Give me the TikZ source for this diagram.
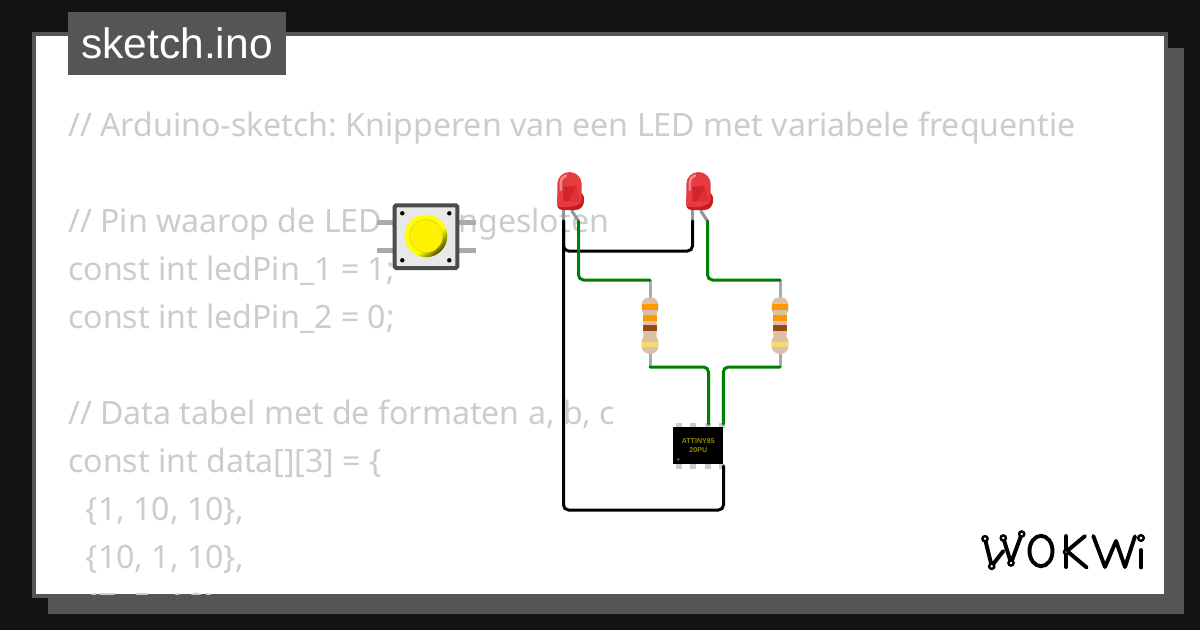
\documentclass[tikz,border=0pt]{standalone}
\usepackage{fontspec}
\setmainfont{Noto Sans}
\newfontfamily\tabfont{Liberation Sans}
\newfontfamily\chipfont{Liberation Sans}
\frenchspacing
\definecolor{pagebg}{HTML}{121212}
\definecolor{framegray}{HTML}{555555}
\definecolor{codegray}{HTML}{CCCCCC}
\definecolor{wiregreen}{HTML}{008000}
\definecolor{leadgray}{HTML}{AAAAAA}
\definecolor{ledred}{HTML}{E83B40}
\definecolor{leddark}{HTML}{C41C1C}
\definecolor{resbody}{HTML}{DCC0A6}
\definecolor{bandorange}{HTML}{FF9800}
\definecolor{bandbrown}{HTML}{964B14}
\definecolor{bandyellow}{HTML}{F2DC6C}
\definecolor{chiptext}{HTML}{8B8B00}
\pgfdeclareverticalshading{btnring}{100bp}{color(0bp)=(black!70!yellow); color(25bp)=(black!70!yellow); color(42bp)=(yellow); color(100bp)=(yellow)}
\tikzset{
  wire/.style={line width=3pt,rounded corners=5pt,line cap=round},
  greenwire/.style={wire,draw=wiregreen},
  blackwire/.style={wire,draw=black},
  codeline/.style={anchor=base west,inner sep=0pt,text=codegray,font=\fontsize{32.12}{38}\selectfont},
  logostroke/.style={draw=black,line width=3.9pt,line cap=round,line join=round},
  logonode/.style={draw=black,fill=white,line width=2.4pt},
  btnlead/.style={draw=leadgray,line width=5pt},
  ledpic/.pic={
    \coordinate (-c) at (-6,49);
    \coordinate (-a) at (9,49);
    \draw[draw=gray!85,line width=3pt] (-6,34) -- (-c);
    \draw[draw=gray!85,line width=3pt] (2,36) -- (3,40) -- (-a);
    \fill[leddark] (-12.2,24) -- (-12.2,33) .. controls (-12.2,37) and (-9,38) .. (-5,38)
      -- (6,38) .. controls (12,38) and (14.6,33) .. (14.6,28) .. controls (14.6,24) and (13,21) .. (11,20) -- cycle;
    \fill[ledred] (-12.2,12.2) arc[start angle=180,end angle=360,radius=12.2] -- (12.2,28)
      .. controls (12.2,31) and (8,34) .. (0,35) .. controls (-6,35.5) and (-12.2,35) .. (-12.2,33) -- cycle;
    \fill[leddark,opacity=.65] (-6.2,14.3) -- (6.5,14.3) -- (-1.2,29.3) -- (-6.2,29.3) -- cycle;
    \fill[leddark,opacity=.3] (6.5,14.3) -- (11,29.3) -- (-1.2,29.3) -- cycle;
    \draw[draw=white,opacity=.4,line width=2.6pt,line cap=round] (-8.6,18) -- (-8.6,11) .. controls (-8.6,7) and (-6.5,4.5) .. (-3.5,3.4);
  },
  respic/.pic={
    \coordinate (-top) at (0,0);
    \coordinate (-bot) at (0,87);
    \draw[draw=leadgray,line width=3pt] (-top) -- (-bot);
    \fill[resbody] (0,17.3) .. controls (-5,17.3) and (-8.3,20) .. (-8.3,25) -- (-8.3,30)
      .. controls (-8.3,32) and (-6.7,32) .. (-6.7,34) -- (-6.7,57) .. controls (-6.7,59) and (-8.3,59) .. (-8.3,61)
      -- (-8.3,67) .. controls (-8.3,71) and (-4,74) .. (0,74) .. controls (4,74) and (8.3,71) .. (8.3,67)
      -- (8.3,61) .. controls (8.3,59) and (6.7,59) .. (6.7,57) -- (6.7,34) .. controls (6.7,32) and (8.3,32) .. (8.3,30)
      -- (8.3,25) .. controls (8.3,20) and (5,17.3) .. (0,17.3) -- cycle;
    \fill[bandorange] (-8.3,24) rectangle (8.3,30);
    \fill[bandorange] (-6.7,35) rectangle (6.7,41);
    \fill[bandbrown] (-6.7,45.3) rectangle (6.7,50.7);
    \fill[bandyellow] (-8.3,61.7) rectangle (8.3,67.3);
  },
  chippin/.style={fill=codegray,minimum width=5.7pt,minimum height=5pt,inner sep=0pt,draw=none},
}
\begin{document}
\begin{tikzpicture}[x=1pt,y=-1pt]
\useasboundingbox (0,0) rectangle (1200,630);
\fill[pagebg] (0,0) rectangle (1200,630);
\fill[framegray] (48,48) rectangle (1184,614);
\fill[framegray] (32,32) rectangle (1168,598);
\fill[white] (36,36) rectangle (1164,594);
% code listing
\begin{scope}
\clip (36,36) rectangle (1164,594);
\node[codeline] (l1) at (68,136) {// Arduino-sketch: Knipperen van een LED met variabele frequentie};
\node[codeline] (l3) at (68,232) {// Pin waarop de LED is aangesloten};
\node[codeline] (l4) at (68,280) {const int ledPin\_1 = 1;};
\node[codeline] (l5) at (68,328) {const int ledPin\_2 = 0;};
\node[codeline] (l7) at (68,424) {// Data tabel met de formaten a, b, c};
\node[codeline] (l8) at (68,472) {const int data[][3] = \{};
\node[codeline] (l9) at (68,520) {\hspace{17.6pt}\{1, 10, 10\},};
\node[codeline] (l10) at (68,568) {\hspace{17.6pt}\{10, 1, 10\},};
\node[codeline] (l11) at (68,616) {\hspace{17.6pt}\{7, 5, 10\},};
\end{scope}
% title tab
\node[fill=framegray,text=white,minimum width=218pt,minimum height=63pt,inner sep=0pt,font=\tabfont\fontsize{42.5}{50}\selectfont] (tab) at (177,43.5) {sketch.ino};
% push button
\draw[btnlead] (376.7,222.3) -- (393,222.3);
\draw[btnlead] (376.7,250) -- (393,250);
\draw[btnlead] (459,222.3) -- (475.5,222.3);
\draw[btnlead] (459,250) -- (475.5,250);
\draw[fill=black!9,draw=black!70,line width=4pt,rounded corners=1.5pt] (394.7,205.3) rectangle (457.3,268);
\foreach \hx/\hy in {402.3/213.3,449.3/213.3,402.3/260.3,449.3/260.3}
  \fill[black] (\hx,\hy) circle (2.2);
\shade[shading=btnring,shading angle=45] (426,236) circle (21.3);
\draw[fill=yellow,draw=black!15!yellow,line width=.6pt] (426,236) circle (16.5);
% parts
\pic (led1) at (569.5,172) {ledpic};
\pic (led2) at (698.5,172) {ledpic};
\pic (r1) at (650,280) {respic};
\pic (r2) at (780,280) {respic};
% chip
\node[chippin] (p1) at (678.9,425) {};
\node[chippin] (p2) at (693,425) {};
\node[chippin] (p3) at (708,425) {};
\node[chippin] (p4) at (722.2,425) {};
\node[chippin] (p5) at (678.9,466.5) {};
\node[chippin] (p6) at (693,466.5) {};
\node[chippin] (p7) at (708,466.5) {};
\node[chippin] (p8) at (722.2,466.5) {};
\node[fill=black,minimum width=50pt,minimum height=36.7pt,inner sep=0pt,align=center,text=chiptext,font=\chipfont\bfseries\fontsize{7.1}{9}\selectfont] (chip) at (698.3,445.6) {ATTINY85\\20PU};
\fill[black!65] (678.3,459.3) circle (1.5);
% wires
\coordinate (wa) at (723.5,510);
\coordinate (wb) at (563.5,510);
\coordinate (j1) at (563.5,251);
\coordinate (j2) at (692.5,251);
\coordinate (c3) at (708.5,424);
\coordinate (c4) at (723.3,424);
\coordinate (c8) at (723.5,466);
\draw[blackwire] (led1-c) -- (wb) -- (wa) -- (c8);
\draw[blackwire] (led1-c) -- (j1) -- (j2) -- (led2-c);
\draw[greenwire] (led1-a) |- (r1-top);
\draw[greenwire] (led2-a) |- (r2-top);
\draw[greenwire] (r1-bot) -| (c3);
\draw[greenwire] (r2-bot) -| (c4);
% logo
\draw[logostroke] (985,539) -- (991.7,566) -- (1003.3,551);
\draw[logostroke] (1003.3,538) -- (1011,563) -- (1021.7,534);
\draw[logonode] (985,538.7) circle (2.6);
\draw[logonode] (1003.3,538) circle (2.6);
\draw[logonode] (1021.7,534) circle (2.6);
\draw[logonode] (991.7,566.3) circle (2.6);
\draw[logonode] (1011,563) circle (2.6);
\draw[logostroke] (1041,551) ellipse [x radius=11.5,y radius=15.2];
\draw[logostroke] (1066,536) -- (1066,567);
\draw[logostroke] (1085,536) -- (1067,551) -- (1086.7,567.5);
\draw[logonode] (1066,552) circle (2);
\draw[logostroke] (1093.3,536) -- (1105,567) -- (1116,541) -- (1125,567) -- (1135,536.3);
\draw[logostroke] (1141,550) -- (1141,567.5);
\draw[logonode] (1141,538) circle (2.8);
\end{tikzpicture}
\end{document}
